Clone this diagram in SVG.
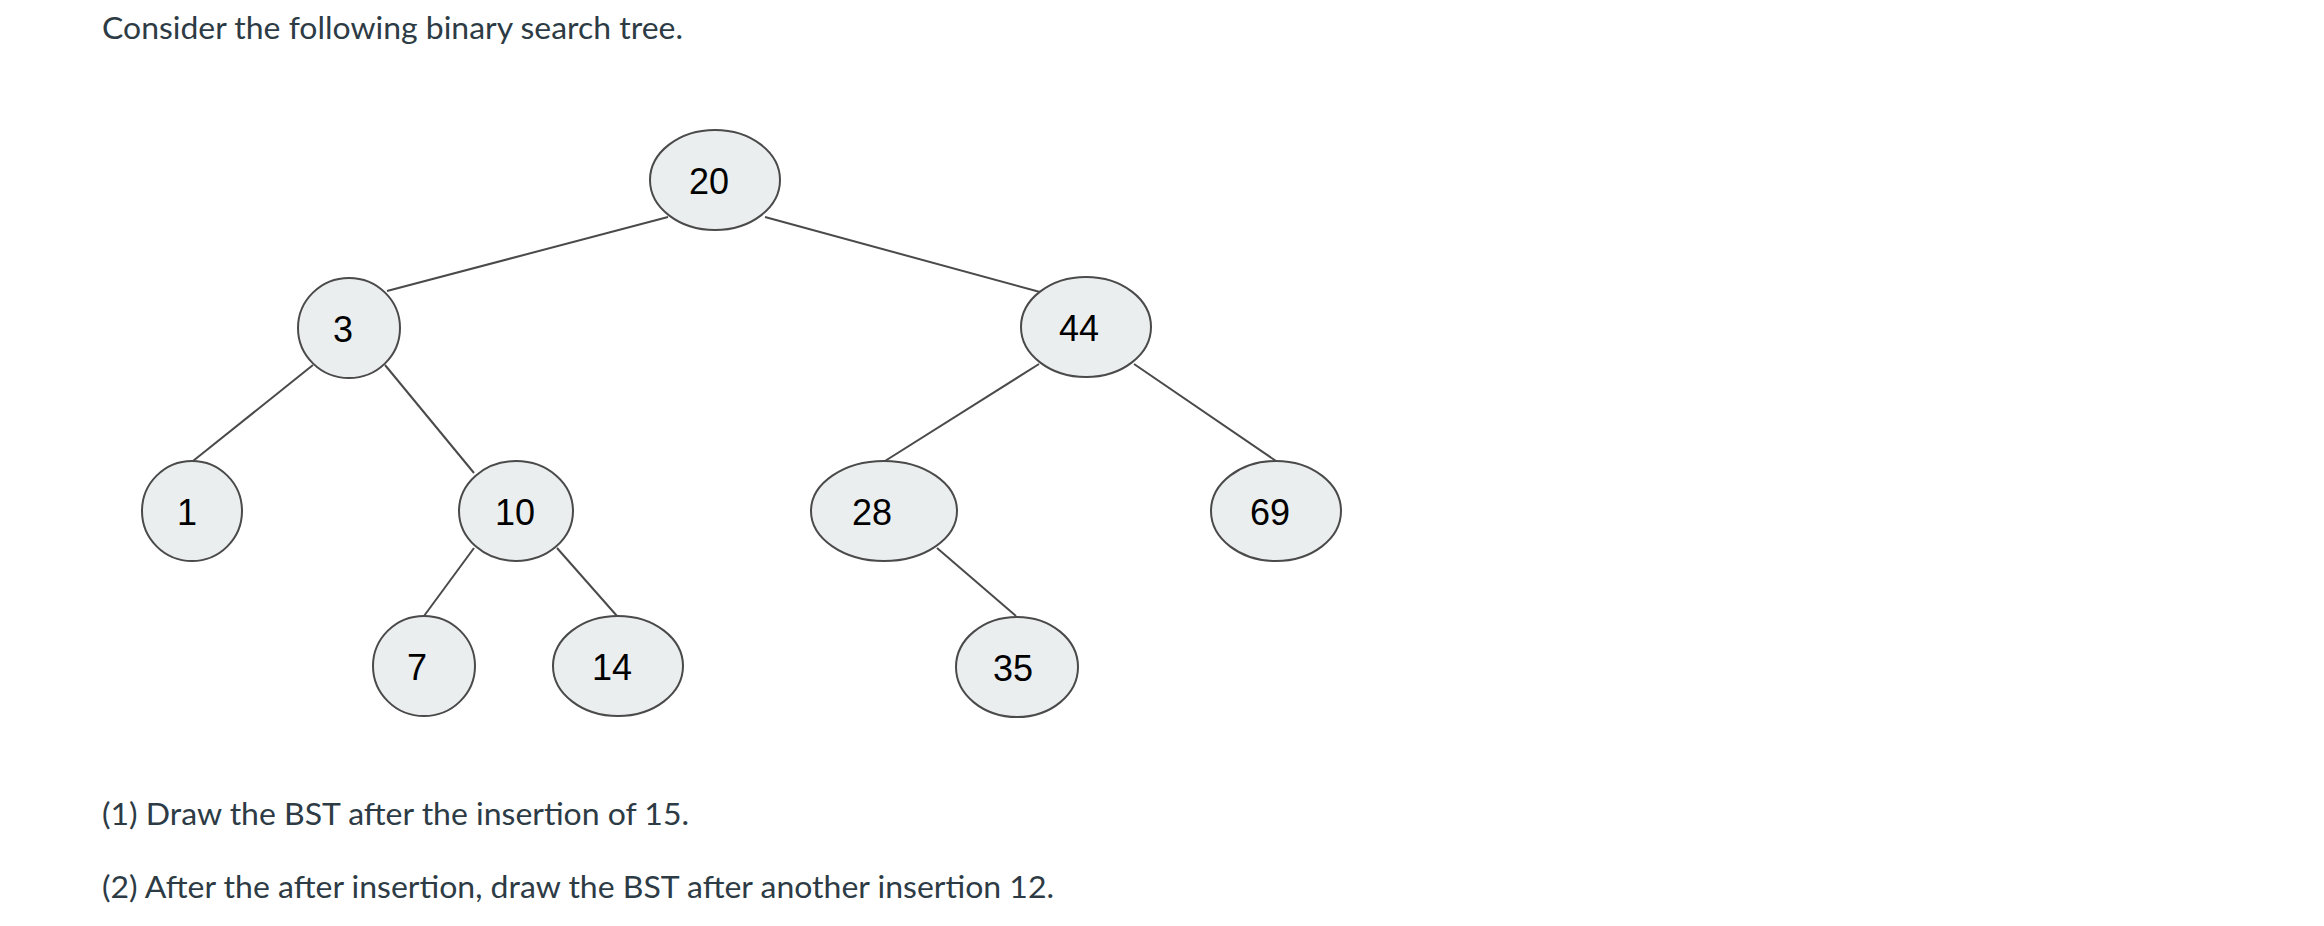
<svg xmlns="http://www.w3.org/2000/svg" width="2324" height="926" viewBox="0 0 2324 926">
<style>
.prose{font-family:Lato,"Open Sans",sans-serif;font-size:30px;fill:#2D3B45}
.node ellipse{fill:#EBEEEF;stroke:#4a4a4a;stroke-width:2}
.node text{font-family:"Liberation Sans",Arial,sans-serif;font-size:36px;fill:#000;text-anchor:middle}
.edges line{stroke:#4a4a4a;stroke-width:2}
</style>
<rect width="2324" height="926" fill="#fff"/>
<text class="prose" x="102" y="39" textLength="581" lengthAdjust="spacingAndGlyphs">Consider the following binary search tree.</text>
<g class="edges" id="connectors">
<line x1="668" y1="217" x2="387" y2="291"/>
<line x1="765" y1="217" x2="1040" y2="292"/>
<line x1="313" y1="365" x2="193" y2="461"/>
<line x1="385" y1="365" x2="474" y2="473"/>
<line x1="1039" y1="364" x2="885" y2="461"/>
<line x1="1134" y1="364" x2="1276" y2="461"/>
<line x1="937" y1="548" x2="1016" y2="616"/>
<line x1="474" y1="548" x2="424" y2="616"/>
<line x1="557" y1="548" x2="617" y2="616"/>
</g>
<g class="node" id="n20"><ellipse cx="715" cy="180" rx="65" ry="50"/><text x="709" y="194">20</text></g>
<g class="node" id="n3"><ellipse cx="349" cy="328" rx="51" ry="50"/><text x="343" y="342">3</text></g>
<g class="node" id="n44"><ellipse cx="1086" cy="327" rx="65" ry="50"/><text x="1079" y="341">44</text></g>
<g class="node" id="n1"><ellipse cx="192" cy="511" rx="50" ry="50"/><text x="187" y="525">1</text></g>
<g class="node" id="n10"><ellipse cx="516" cy="511" rx="57" ry="50"/><text x="515" y="525">10</text></g>
<g class="node" id="n28"><ellipse cx="884" cy="511" rx="73" ry="50"/><text x="872" y="525">28</text></g>
<g class="node" id="n69"><ellipse cx="1276" cy="511" rx="65" ry="50"/><text x="1270" y="525">69</text></g>
<g class="node" id="n7"><ellipse cx="424" cy="666" rx="51" ry="50"/><text x="417" y="680">7</text></g>
<g class="node" id="n14"><ellipse cx="618" cy="666" rx="65" ry="50"/><text x="612" y="680">14</text></g>
<g class="node" id="n35"><ellipse cx="1017" cy="667" rx="61" ry="50"/><text x="1013" y="681">35</text></g>
<text class="prose" x="102" y="825" textLength="587" lengthAdjust="spacingAndGlyphs">(1) Draw the BST after the insertion of 15.</text>
<text class="prose" x="102" y="898" textLength="952" lengthAdjust="spacingAndGlyphs">(2) After the after insertion, draw the BST after another insertion 12.</text>
</svg>
